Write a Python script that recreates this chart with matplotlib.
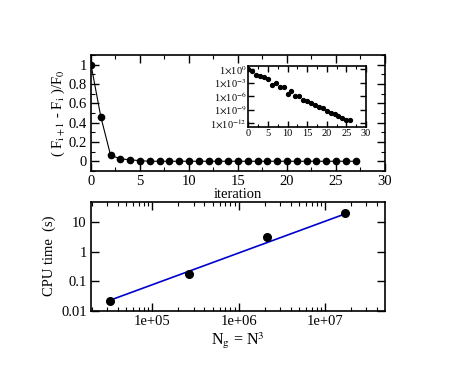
import numpy as np
import matplotlib
matplotlib.use("Agg")
import matplotlib.pyplot as plt
from matplotlib.ticker import MultipleLocator, LogLocator, NullFormatter, FuncFormatter, NullLocator

plt.rcParams['font.family'] = ['Liberation Serif', 'DejaVu Serif']
plt.rcParams['mathtext.fontset'] = 'stix'

# convergence of the functional, main panel
iterations = list(range(28))
rel_change = [1.0, 0.46, 0.062, 0.025, 0.015, 0.006] + [0.0] * 22

# inset: same quantity on a log scale (exponents)
inset_iter = list(range(27))
inset_log10 = [0.0, -0.3, -1.25, -1.5, -1.7, -2.06, -3.5, -2.95, -4.0, -4.0,
               -5.4, -4.9, -6.0, -6.0, -6.8, -7.0, -7.6, -7.9, -8.3, -8.7,
               -9.2, -9.6, -10.0, -10.4, -10.8, -11.2, -11.35]
inset_vals = [10.0 ** v for v in inset_log10]

# CPU time vs grid size
grid_n = [32, 64, 128, 256]
grid_points = [n ** 3 for n in grid_n]
cpu_time = [0.022, 0.18, 3.1, 20.0]

# fitted line endpoints
fit_x = [32 ** 3, 256 ** 3]
fit_y = [0.023, 19.0]


def style_ticks(ax):
    ax.tick_params(which='both', direction='in', top=True, right=True)
    ax.tick_params(which='major', length=6, width=1.0)
    ax.tick_params(which='minor', length=3, width=0.8)
    for s in ax.spines.values():
        s.set_linewidth(1.2)


fig = plt.figure(figsize=(4.74, 3.66), dpi=100)

# ---- top panel
ax1 = fig.add_axes([0.192, 0.533, 0.620, 0.317])
ax1.plot(iterations, rel_change, color='black', lw=0.8, marker='o', ms=4.5)
ax1.set_xlim(0, 30)
ax1.set_ylim(-0.1, 1.1)
ax1.xaxis.set_major_locator(MultipleLocator(5))
ax1.xaxis.set_minor_locator(MultipleLocator(2.5))
ax1.yaxis.set_major_locator(MultipleLocator(0.2))
ax1.yaxis.set_minor_locator(MultipleLocator(0.1))
ax1.yaxis.set_major_formatter(FuncFormatter(lambda v, p: '%g' % round(v, 2)))
style_ticks(ax1)
ax1.tick_params(labelsize=10.5, pad=3)
ax1.set_xlabel('iteration', fontsize=10.5, labelpad=0)
ax1.set_ylabel(r'( F$_{\rm i+1}$ - F$_{\rm i}$ )/F$_0$', fontsize=10.5, labelpad=1)

# ---- inset
ax_in = fig.add_axes([0.524, 0.652, 0.248, 0.168])
ax_in.semilogy(inset_iter, inset_vals, linestyle='none', marker='o', ms=2.8, color='black')
ax_in.set_xlim(0, 30)
ax_in.set_ylim(10 ** -12.9, 10 ** 0.75)
ax_in.xaxis.set_major_locator(MultipleLocator(5))
ax_in.xaxis.set_minor_locator(MultipleLocator(2.5))
ax_in.yaxis.set_major_locator(LogLocator(base=1000.0, numticks=10))
ax_in.yaxis.set_minor_locator(NullLocator())
ax_in.yaxis.set_major_formatter(
    FuncFormatter(lambda v, p: r'1$\times$10$^{%d}$' % int(round(np.log10(v)))))
style_ticks(ax_in)
ax_in.tick_params(which='major', length=4)
ax_in.tick_params(which='minor', length=2)
ax_in.tick_params(labelsize=7.5, pad=1.5)

# ---- bottom panel
ax2 = fig.add_axes([0.192, 0.151, 0.620, 0.298])
ax2.plot(fit_x, fit_y, color='#0000cc', lw=1.2)
ax2.plot(grid_points, cpu_time, linestyle='none', marker='o', ms=5.5, color='black')
ax2.set_xscale('log')
ax2.set_yscale('log')
ax2.set_xlim(1.95e4, 4.9e7)
ax2.set_ylim(0.01, 50)
ax2.xaxis.set_major_locator(LogLocator(base=10, numticks=10))
ax2.xaxis.set_minor_locator(LogLocator(base=10, subs=np.arange(2, 10), numticks=10))
ax2.xaxis.set_minor_formatter(NullFormatter())
ax2.xaxis.set_major_formatter(FuncFormatter(lambda v, p: '1e+%02d' % int(round(np.log10(v)))))
ax2.yaxis.set_major_locator(LogLocator(base=10, numticks=10))
ax2.yaxis.set_minor_locator(NullLocator())
ax2.yaxis.set_major_formatter(FuncFormatter(lambda v, p: '%g' % v))
style_ticks(ax2)
ax2.tick_params(labelsize=10.5, pad=3)
ax2.set_xlabel(r'N$_{\rm g}$ = N$^3$', fontsize=11.5, labelpad=2)
ax2.set_ylabel('CPU time  (s)', fontsize=10.5, labelpad=4)

fig.savefig('out.png', dpi=100)
